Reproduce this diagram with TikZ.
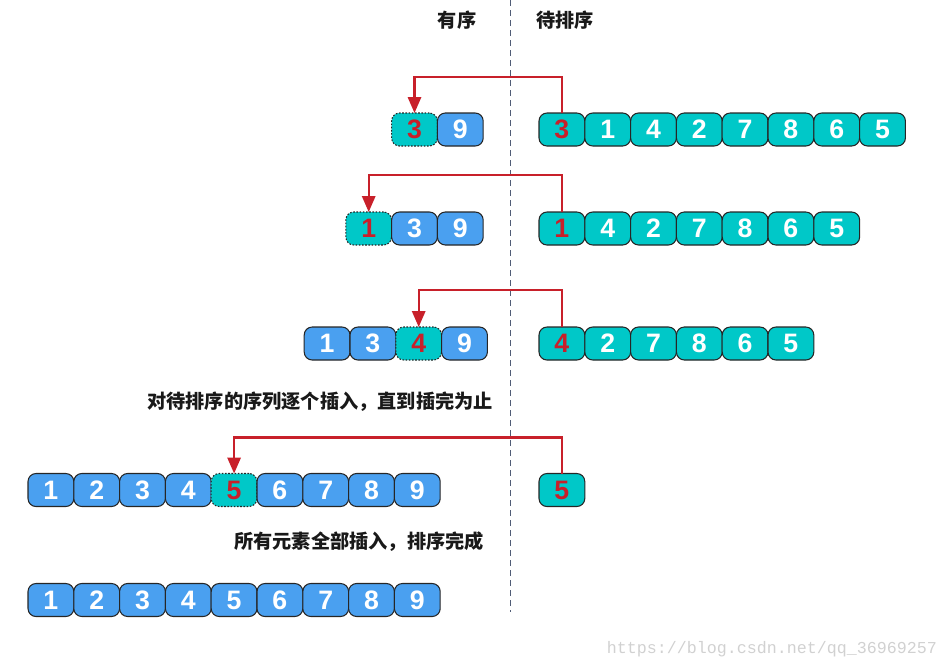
\documentclass[tikz,border=0pt]{standalone}
\usepackage{fontspec}
\setmainfont{Liberation Sans}
\newfontfamily\cjk{Noto Sans CJK SC}
\newfontfamily\urlfont{Liberation Mono}
\usetikzlibrary{arrows.meta}

\definecolor{sorted blue}{RGB}{74,160,240}
\definecolor{waiting teal}{RGB}{0,200,200}
\definecolor{pick red}{RGB}{200,32,42}
\definecolor{divider gray}{RGB}{80,92,118}
\colorlet{cell edge}{black!85}
\colorlet{caption text}{black!90}
\tikzset{
  cell/.style={rectangle, rounded corners=6pt, draw=cell edge, line width=0.8pt,
    minimum width=34.35pt, minimum height=24.75pt, inner sep=0pt, outer sep=0pt,
    text=white, font=\bfseries\fontsize{20}{20}\selectfont},
  sorted/.style={cell, fill=sorted blue},
  waiting/.style={cell, fill=waiting teal},
  picked/.style={waiting, text=pick red},
  slot/.style={picked, dash pattern=on 1.2pt off 1.2pt},
  caption/.style={text=caption text, font=\cjk\bfseries\fontsize{14.4}{14.4}\selectfont}
  }
\tikzstyle{insert} = [draw=pick red, line width=1.6pt, -{Triangle[length=12pt,width=10pt]}]
\tikzstyle{divider} = [draw=divider gray, line width=0.8pt, dash pattern=on 4.5pt off 3pt]

\begin{document}
\begin{tikzpicture}[x=0.75pt,y=-0.75pt]
   \useasboundingbox (0,0) rectangle (949,669);

   \node[caption] (ordered) at (457,20) {有序};
   \node[caption] (unordered) at (565,20) {待排序};
   \draw[divider] (510.5,0) -- (510.5,612);

   % first pass
   \node[slot] (l11) at (414.5,129.5) {3};
   \node[sorted] (l12) at (460.3,129.5) {9};
   \node[picked] (r11) at (561.9,129.5) {3};
   \node[waiting] (r12) at (607.7,129.5) {1};
   \node[waiting] (r13) at (653.5,129.5) {4};
   \node[waiting] (r14) at (699.3,129.5) {2};
   \node[waiting] (r15) at (745.1,129.5) {7};
   \node[waiting] (r16) at (790.9,129.5) {8};
   \node[waiting] (r17) at (836.7,129.5) {6};
   \node[waiting] (r18) at (882.5,129.5) {5};

   % second pass
   \node[slot] (l21) at (368.7,228.5) {1};
   \node[sorted] (l22) at (414.5,228.5) {3};
   \node[sorted] (l23) at (460.3,228.5) {9};
   \node[picked] (r21) at (561.9,228.5) {1};
   \node[waiting] (r22) at (607.7,228.5) {4};
   \node[waiting] (r23) at (653.5,228.5) {2};
   \node[waiting] (r24) at (699.3,228.5) {7};
   \node[waiting] (r25) at (745.1,228.5) {8};
   \node[waiting] (r26) at (790.9,228.5) {6};
   \node[waiting] (r27) at (836.7,228.5) {5};

   % third pass
   \node[sorted] (l31) at (327.1,343.5) {1};
   \node[sorted] (l32) at (372.9,343.5) {3};
   \node[slot] (l33) at (418.7,343.5) {4};
   \node[sorted] (l34) at (464.5,343.5) {9};
   \node[picked] (r31) at (561.9,343.5) {4};
   \node[waiting] (r32) at (607.7,343.5) {2};
   \node[waiting] (r33) at (653.5,343.5) {7};
   \node[waiting] (r34) at (699.3,343.5) {8};
   \node[waiting] (r35) at (745.1,343.5) {6};
   \node[waiting] (r36) at (790.9,343.5) {5};

   \node[caption] (note) at (320,402) {对待排序的序列逐个插入，直到插完为止};

   % last pass
   \node[sorted] (l41) at (50.9,490) {1};
   \node[sorted] (l42) at (96.7,490) {2};
   \node[sorted] (l43) at (142.5,490) {3};
   \node[sorted] (l44) at (188.3,490) {4};
   \node[slot] (l45) at (234.1,490) {5};
   \node[sorted] (l46) at (279.9,490) {6};
   \node[sorted] (l47) at (325.7,490) {7};
   \node[sorted] (l48) at (371.5,490) {8};
   \node[sorted] (l49) at (417.3,490) {9};
   \node[picked] (r41) at (561.9,490) {5};

   \node[caption] (done) at (359,542) {所有元素全部插入，排序完成};

   % result
   \node[sorted] (s1) at (50.9,600) {1};
   \node[sorted] (s2) at (96.7,600) {2};
   \node[sorted] (s3) at (142.5,600) {3};
   \node[sorted] (s4) at (188.3,600) {4};
   \node[sorted] (s5) at (234.1,600) {5};
   \node[sorted] (s6) at (279.9,600) {6};
   \node[sorted] (s7) at (325.7,600) {7};
   \node[sorted] (s8) at (371.5,600) {8};
   \node[sorted] (s9) at (417.3,600) {9};

   \node[text=black!18, font=\urlfont\fontsize{12.5}{12.5}\selectfont] (mark) at (772,649) {https://blog.csdn.net/qq\_36969257};

   \path[insert] (r11.north) -- ++(0,-36) -| (l11.north);
   \path[insert] (r21.north) -- ++(0,-37) -| (l21.north);
   \path[insert] (r31.north) -- ++(0,-37) -| (l33.north);
   \path[insert] (r41.north) -- ++(0,-36) -| (l45.north);
\end{tikzpicture}
\end{document}
